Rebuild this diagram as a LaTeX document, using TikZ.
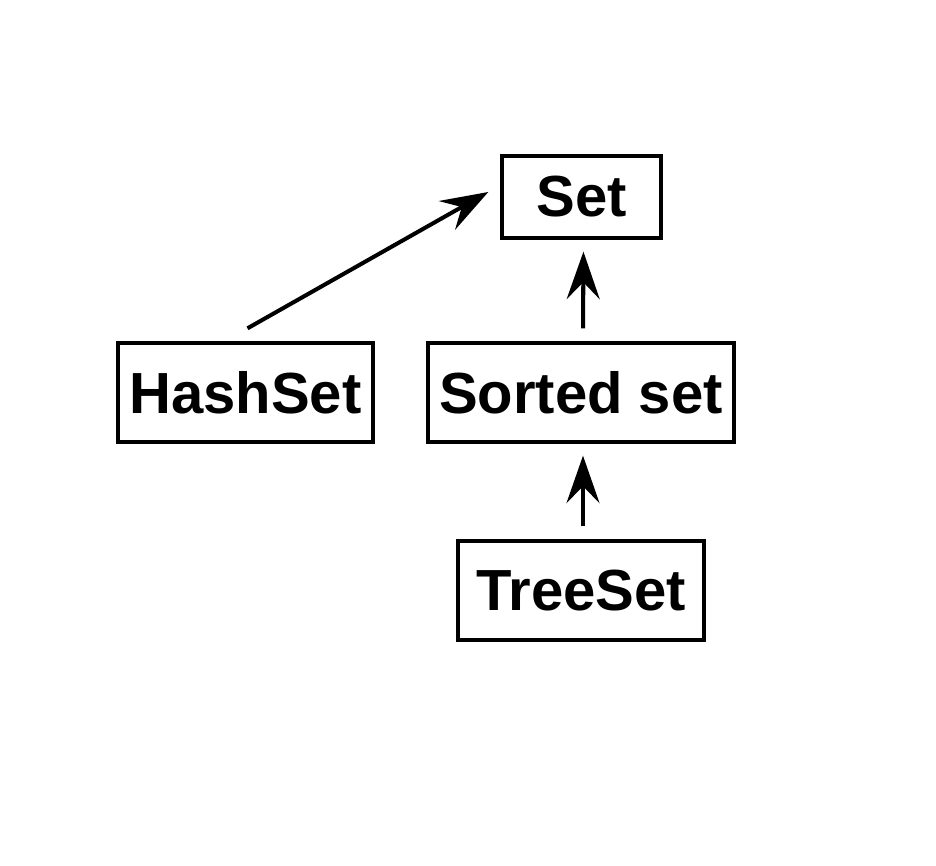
\documentclass[tikz,border=0pt]{standalone}
\usepackage{fontspec}
\setmainfont{Liberation Sans}
\usetikzlibrary{arrows.meta, positioning}

\begin{document}
\begin{tikzpicture}[
    cls/.style={draw, line width=1.9pt, inner sep=0pt, minimum height=1.98cm, font=\fontsize{33}{40}\bfseries\selectfont},
    inherit/.style={-{Stealth[length=0.95cm, width=0.66cm, inset=0.34cm]}, line width=2.3pt},
]
    \useasboundingbox (0, 0) rectangle (18.72, 17.32);

    % Classes
    \node[cls, minimum width=3.18cm, minimum height=1.64cm] (set) at (11.63, 13.38) {Set};
    \node[cls, minimum width=5.10cm] (hashset) at (4.91, 9.47) {HashSet};
    \node[cls, minimum width=6.12cm] (sortedset) at (11.62, 9.47) {Sorted set};
    \node[cls, minimum width=4.92cm] (treeset) at (11.62, 5.51) {TreeSet};

    % Connections
    \draw[inherit] ([xshift=0.04cm, yshift=0.26cm]hashset.north) -- ([xshift=-0.24cm, yshift=0.1cm]set.west);
    \draw[inherit, shorten <=0.26cm, shorten >=0.24cm] ([xshift=0.04cm]sortedset.north) -- ([xshift=0.04cm]set.south);
    \draw[inherit, shorten <=0.26cm, shorten >=0.24cm] ([xshift=0.04cm]treeset.north) -- ([xshift=0.04cm]sortedset.south);

\end{tikzpicture}
\end{document}
